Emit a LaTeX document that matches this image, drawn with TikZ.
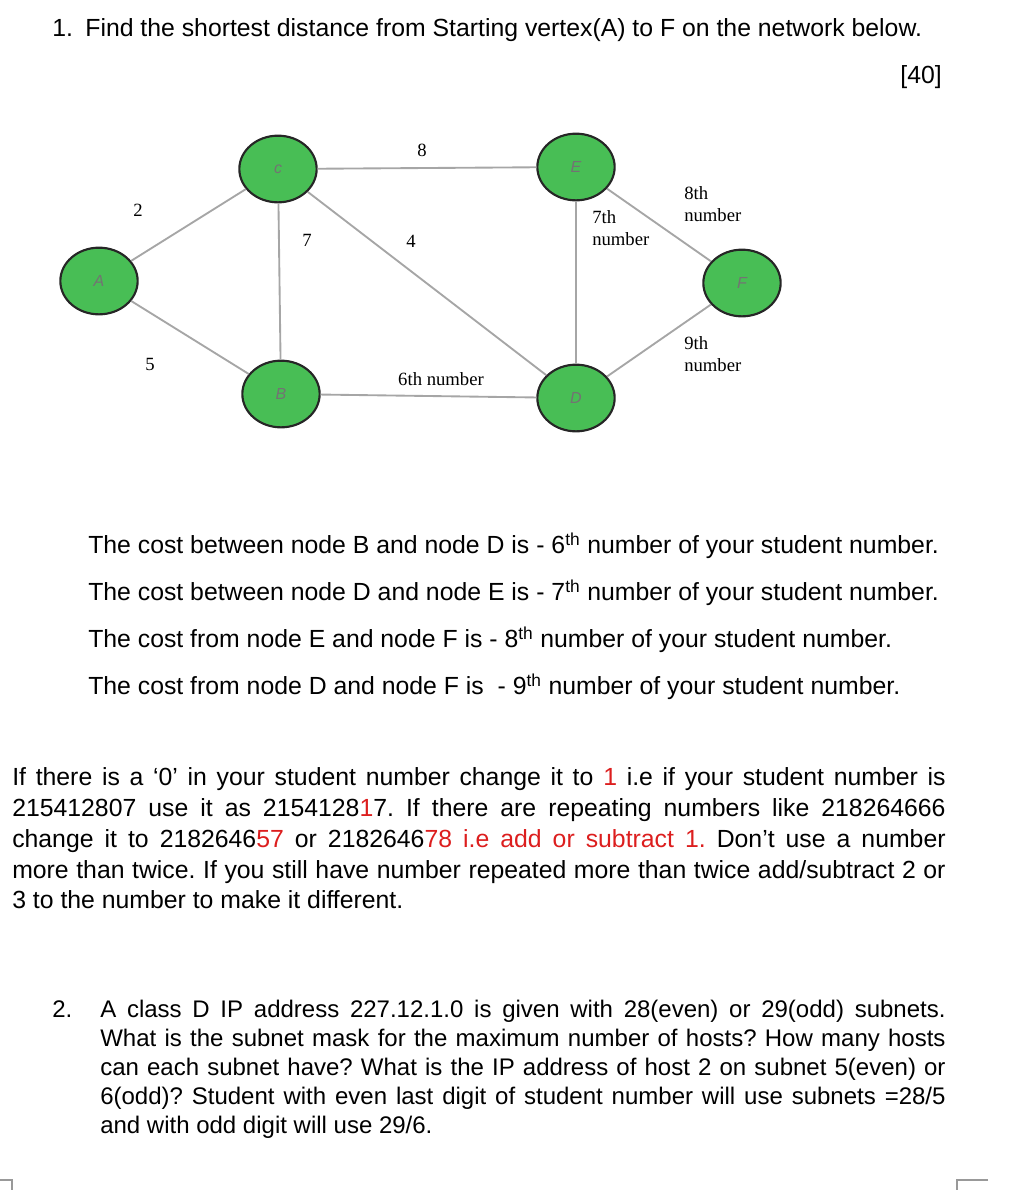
\documentclass[tikz,border=0pt]{standalone}
\usepackage{fontspec}
\setmainfont{Liberation Sans}
\newfontfamily\lblfont{Liberation Serif}
\definecolor{ngreen}{RGB}{72,190,85}
\definecolor{qred}{RGB}{220,30,30}
\frenchspacing
\begin{document}
\begin{tikzpicture}[x=0.75pt,y=-0.75pt,
  vert/.style={ellipse,draw=black!85,line width=1.6pt,fill=ngreen,minimum width=58pt,minimum height=50pt,inner sep=0pt,font=\fontsize{12}{14}\selectfont\itshape\color{black!55}},
  edge/.style={draw=black!35,line width=1.4pt},
  lbl/.style={font=\lblfont\fontsize{14}{16.5}\selectfont,align=left,inner sep=0pt},
  body/.style={font=\fontsize{18.6}{23}\selectfont,inner sep=0pt,anchor=west}]
\usetikzlibrary{shapes.geometric}
\useasboundingbox (0,0) rectangle (1032,1190);
\node[body] (t1) at (52,30) {1.\enspace Find the shortest distance from Starting vertex(A) to F on the network below.};
\node[body,anchor=east] (t40) at (942,77) {[40]};
\node[vert] (C) at (278,169) {c};
\node[vert] (E) at (576,167) {E};
\node[vert] (A) at (99,281) {A};
\node[vert] (F) at (742,283) {F};
\node[vert] (B) at (281,394) {B};
\node[vert] (D) at (576,398) {D};
\draw[edge] (A)--(C); \draw[edge] (A)--(B); \draw[edge] (C)--(E);
\draw[edge] (C)--(B); \draw[edge] (C)--(D); \draw[edge] (E)--(D);
\draw[edge] (B)--(D); \draw[edge] (E)--(F); \draw[edge] (D)--(F);
\node[lbl] (l8) at (422,150) {8};
\node[lbl] (l2) at (138,210) {2};
\node[lbl] (l7) at (307,240) {7};
\node[lbl] (l4) at (411,241) {4};
\node[lbl] (l5) at (150,364) {5};
\node[lbl] (l6) at (441,379) {6th number};
\node[lbl,anchor=west] (l7t) at (592,228) {7th\\number};
\node[lbl,anchor=west] (l8t) at (684,204) {8th\\number};
\node[lbl,anchor=west] (l9t) at (684,354) {9th\\number};
\node[body] (c1) at (88,546) {The cost between node B and node D is - 6\textsuperscript{th} number of your student number.};
\node[body] (c2) at (88,593) {The cost between node D and node E is - 7\textsuperscript{th} number of your student number.};
\node[body] (c3) at (88,640) {The cost from node E and node F is - 8\textsuperscript{th} number of your student number.};
\node[body] (c4) at (88,687) {The cost from node D and node F is\ \ - 9\textsuperscript{th} number of your student number.};
\node[body,anchor=north west,text width=700pt,align=justify,font=\fontsize{18.6}{23.2}\selectfont] (p) at (12,767)
{\hbadness=10000 \hfuzz=20pt If there is a ‘0’ in your student number change it to \textcolor{qred}{1} i.e if your student number is\linebreak 215412807 use it as 2154128\textcolor{qred}{1}7. If there are repeating numbers like 218264666\linebreak change it to 2182646\textcolor{qred}{57} or 2182646\textcolor{qred}{78 i.e add or subtract 1.} Don’t use a number\linebreak more than twice. If you still have number repeated more than twice add/subtract 2 or\linebreak 3 to the number to make it different.};
\node[body,anchor=north west] (q2n) at (52,1000) {\fontsize{18}{21.7}\selectfont 2.};
\node[body,anchor=north west,text width=634pt,align=justify,font=\fontsize{18}{21.7}\selectfont] (q2) at (100,1000)
{\hbadness=10000 \hfuzz=20pt A class D IP address 227.12.1.0 is given with 28(even) or 29(odd) subnets.\linebreak What is the subnet mask for the maximum number of hosts? How many hosts\linebreak can each subnet have? What is the IP address of host 2 on subnet 5(even) or\linebreak 6(odd)? Student with even last digit of student number will use subnets =28/5\linebreak and with odd digit will use 29/6.};
\draw[black!40,line width=0.8pt] (0,1180)--(12,1180)--(12,1190);
\draw[black!40,line width=0.8pt] (988,1180)--(957,1180)--(957,1190);
\end{tikzpicture}
\end{document}
